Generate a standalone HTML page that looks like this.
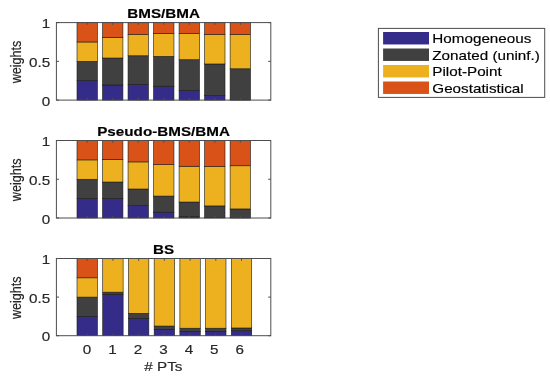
<!DOCTYPE html>
<html><head><meta charset="utf-8"><style>
html,body{margin:0;padding:0;background:#fff;}
svg{display:block;}
text{font-family:'Liberation Sans', Arial, Helvetica, sans-serif;fill:#262626;stroke:#262626;stroke-width:0.15px;}
</style></head><body>
<svg width="550" height="378" viewBox="0 0 550 378">
<rect width="550" height="378" fill="#fff"/>
<rect x="77.00" y="80.72" width="20.40" height="19.38" fill="#352c8a" stroke="#1a1a1a" stroke-width="0.6"/>
<rect x="77.00" y="61.35" width="20.40" height="19.38" fill="#404040" stroke="#1a1a1a" stroke-width="0.6"/>
<rect x="77.00" y="41.97" width="20.40" height="19.38" fill="#edb120" stroke="#1a1a1a" stroke-width="0.6"/>
<rect x="77.00" y="22.60" width="20.40" height="19.38" fill="#d95319" stroke="#1a1a1a" stroke-width="0.6"/>
<rect x="102.52" y="85.06" width="20.40" height="15.03" fill="#352c8a" stroke="#1a1a1a" stroke-width="0.6"/>
<rect x="102.52" y="58.02" width="20.40" height="27.05" fill="#404040" stroke="#1a1a1a" stroke-width="0.6"/>
<rect x="102.52" y="37.40" width="20.40" height="20.62" fill="#edb120" stroke="#1a1a1a" stroke-width="0.6"/>
<rect x="102.52" y="22.60" width="20.40" height="14.80" fill="#d95319" stroke="#1a1a1a" stroke-width="0.6"/>
<rect x="128.04" y="84.37" width="20.40" height="15.73" fill="#352c8a" stroke="#1a1a1a" stroke-width="0.6"/>
<rect x="128.04" y="55.77" width="20.40" height="28.60" fill="#404040" stroke="#1a1a1a" stroke-width="0.6"/>
<rect x="128.04" y="34.53" width="20.40" height="21.23" fill="#edb120" stroke="#1a1a1a" stroke-width="0.6"/>
<rect x="128.04" y="22.60" width="20.40" height="11.94" fill="#d95319" stroke="#1a1a1a" stroke-width="0.6"/>
<rect x="153.56" y="86.23" width="20.40" height="13.87" fill="#352c8a" stroke="#1a1a1a" stroke-width="0.6"/>
<rect x="153.56" y="56.39" width="20.40" height="29.84" fill="#404040" stroke="#1a1a1a" stroke-width="0.6"/>
<rect x="153.56" y="33.37" width="20.40" height="23.02" fill="#edb120" stroke="#1a1a1a" stroke-width="0.6"/>
<rect x="153.56" y="22.60" width="20.40" height="10.77" fill="#d95319" stroke="#1a1a1a" stroke-width="0.6"/>
<rect x="179.08" y="90.49" width="20.40" height="9.61" fill="#352c8a" stroke="#1a1a1a" stroke-width="0.6"/>
<rect x="179.08" y="59.72" width="20.40" height="30.77" fill="#404040" stroke="#1a1a1a" stroke-width="0.6"/>
<rect x="179.08" y="33.68" width="20.40" height="26.04" fill="#edb120" stroke="#1a1a1a" stroke-width="0.6"/>
<rect x="179.08" y="22.60" width="20.40" height="11.08" fill="#d95319" stroke="#1a1a1a" stroke-width="0.6"/>
<rect x="204.60" y="95.53" width="20.40" height="4.57" fill="#352c8a" stroke="#1a1a1a" stroke-width="0.6"/>
<rect x="204.60" y="63.98" width="20.40" height="31.54" fill="#404040" stroke="#1a1a1a" stroke-width="0.6"/>
<rect x="204.60" y="34.53" width="20.40" height="29.45" fill="#edb120" stroke="#1a1a1a" stroke-width="0.6"/>
<rect x="204.60" y="22.60" width="20.40" height="11.94" fill="#d95319" stroke="#1a1a1a" stroke-width="0.6"/>
<rect x="230.12" y="99.87" width="20.40" height="0.23" fill="#352c8a" stroke="#1a1a1a" stroke-width="0.6"/>
<rect x="230.12" y="68.79" width="20.40" height="31.08" fill="#404040" stroke="#1a1a1a" stroke-width="0.6"/>
<rect x="230.12" y="34.53" width="20.40" height="34.25" fill="#edb120" stroke="#1a1a1a" stroke-width="0.6"/>
<rect x="230.12" y="22.60" width="20.40" height="11.94" fill="#d95319" stroke="#1a1a1a" stroke-width="0.6"/>
<rect x="56.4" y="22.6" width="214.40" height="77.5" fill="none" stroke="#4d4d4d" stroke-width="1"/>
<line x1="56.4" y1="100.10" x2="59.0" y2="100.10" stroke="#4d4d4d" stroke-width="1"/>
<line x1="270.8" y1="100.10" x2="268.2" y2="100.10" stroke="#4d4d4d" stroke-width="1"/>
<line x1="56.4" y1="61.35" x2="59.0" y2="61.35" stroke="#4d4d4d" stroke-width="1"/>
<line x1="270.8" y1="61.35" x2="268.2" y2="61.35" stroke="#4d4d4d" stroke-width="1"/>
<line x1="56.4" y1="22.60" x2="59.0" y2="22.60" stroke="#4d4d4d" stroke-width="1"/>
<line x1="270.8" y1="22.60" x2="268.2" y2="22.60" stroke="#4d4d4d" stroke-width="1"/>
<line x1="87.20" y1="22.6" x2="87.20" y2="24.8" stroke="#4d4d4d" stroke-width="1"/>
<line x1="87.20" y1="100.1" x2="87.20" y2="97.89999999999999" stroke="#4d4d4d" stroke-width="1"/>
<line x1="112.72" y1="22.6" x2="112.72" y2="24.8" stroke="#4d4d4d" stroke-width="1"/>
<line x1="112.72" y1="100.1" x2="112.72" y2="97.89999999999999" stroke="#4d4d4d" stroke-width="1"/>
<line x1="138.24" y1="22.6" x2="138.24" y2="24.8" stroke="#4d4d4d" stroke-width="1"/>
<line x1="138.24" y1="100.1" x2="138.24" y2="97.89999999999999" stroke="#4d4d4d" stroke-width="1"/>
<line x1="163.76" y1="22.6" x2="163.76" y2="24.8" stroke="#4d4d4d" stroke-width="1"/>
<line x1="163.76" y1="100.1" x2="163.76" y2="97.89999999999999" stroke="#4d4d4d" stroke-width="1"/>
<line x1="189.28" y1="22.6" x2="189.28" y2="24.8" stroke="#4d4d4d" stroke-width="1"/>
<line x1="189.28" y1="100.1" x2="189.28" y2="97.89999999999999" stroke="#4d4d4d" stroke-width="1"/>
<line x1="214.80" y1="22.6" x2="214.80" y2="24.8" stroke="#4d4d4d" stroke-width="1"/>
<line x1="214.80" y1="100.1" x2="214.80" y2="97.89999999999999" stroke="#4d4d4d" stroke-width="1"/>
<line x1="240.32" y1="22.6" x2="240.32" y2="24.8" stroke="#4d4d4d" stroke-width="1"/>
<line x1="240.32" y1="100.1" x2="240.32" y2="97.89999999999999" stroke="#4d4d4d" stroke-width="1"/>
<text transform="translate(50.20,105.70) scale(1.27,1)" text-anchor="end" font-size="12">0</text>
<text transform="translate(50.20,66.95) scale(1.27,1)" text-anchor="end" font-size="12">0.5</text>
<text transform="translate(50.20,28.20) scale(1.27,1)" text-anchor="end" font-size="12">1</text>
<text transform="translate(20.60,61.95) scale(1.21,1) rotate(-90)" text-anchor="middle" font-size="12.6">weights</text>
<text transform="translate(163.60,17.60) scale(1.27,1)" text-anchor="middle" font-size="12" font-weight="bold" style="fill:#000;stroke:#000">BMS/BMA</text>
<rect x="77.00" y="198.62" width="20.40" height="19.38" fill="#352c8a" stroke="#1a1a1a" stroke-width="0.6"/>
<rect x="77.00" y="179.25" width="20.40" height="19.38" fill="#404040" stroke="#1a1a1a" stroke-width="0.6"/>
<rect x="77.00" y="159.88" width="20.40" height="19.38" fill="#edb120" stroke="#1a1a1a" stroke-width="0.6"/>
<rect x="77.00" y="140.50" width="20.40" height="19.38" fill="#d95319" stroke="#1a1a1a" stroke-width="0.6"/>
<rect x="102.52" y="198.70" width="20.40" height="19.30" fill="#352c8a" stroke="#1a1a1a" stroke-width="0.6"/>
<rect x="102.52" y="182.04" width="20.40" height="16.66" fill="#404040" stroke="#1a1a1a" stroke-width="0.6"/>
<rect x="102.52" y="159.33" width="20.40" height="22.71" fill="#edb120" stroke="#1a1a1a" stroke-width="0.6"/>
<rect x="102.52" y="140.50" width="20.40" height="18.83" fill="#d95319" stroke="#1a1a1a" stroke-width="0.6"/>
<rect x="128.04" y="205.68" width="20.40" height="12.32" fill="#352c8a" stroke="#1a1a1a" stroke-width="0.6"/>
<rect x="128.04" y="189.01" width="20.40" height="16.66" fill="#404040" stroke="#1a1a1a" stroke-width="0.6"/>
<rect x="128.04" y="161.89" width="20.40" height="27.12" fill="#edb120" stroke="#1a1a1a" stroke-width="0.6"/>
<rect x="128.04" y="140.50" width="20.40" height="21.39" fill="#d95319" stroke="#1a1a1a" stroke-width="0.6"/>
<rect x="153.56" y="212.19" width="20.40" height="5.81" fill="#352c8a" stroke="#1a1a1a" stroke-width="0.6"/>
<rect x="153.56" y="196.07" width="20.40" height="16.12" fill="#404040" stroke="#1a1a1a" stroke-width="0.6"/>
<rect x="153.56" y="164.68" width="20.40" height="31.39" fill="#edb120" stroke="#1a1a1a" stroke-width="0.6"/>
<rect x="153.56" y="140.50" width="20.40" height="24.18" fill="#d95319" stroke="#1a1a1a" stroke-width="0.6"/>
<rect x="179.08" y="216.53" width="20.40" height="1.47" fill="#352c8a" stroke="#1a1a1a" stroke-width="0.6"/>
<rect x="179.08" y="202.03" width="20.40" height="14.49" fill="#404040" stroke="#1a1a1a" stroke-width="0.6"/>
<rect x="179.08" y="166.23" width="20.40" height="35.81" fill="#edb120" stroke="#1a1a1a" stroke-width="0.6"/>
<rect x="179.08" y="140.50" width="20.40" height="25.73" fill="#d95319" stroke="#1a1a1a" stroke-width="0.6"/>
<rect x="204.60" y="217.69" width="20.40" height="0.31" fill="#352c8a" stroke="#1a1a1a" stroke-width="0.6"/>
<rect x="204.60" y="205.91" width="20.40" height="11.78" fill="#404040" stroke="#1a1a1a" stroke-width="0.6"/>
<rect x="204.60" y="166.62" width="20.40" height="39.29" fill="#edb120" stroke="#1a1a1a" stroke-width="0.6"/>
<rect x="204.60" y="140.50" width="20.40" height="26.12" fill="#d95319" stroke="#1a1a1a" stroke-width="0.6"/>
<rect x="230.12" y="217.84" width="20.40" height="0.16" fill="#352c8a" stroke="#1a1a1a" stroke-width="0.6"/>
<rect x="230.12" y="208.93" width="20.40" height="8.91" fill="#404040" stroke="#1a1a1a" stroke-width="0.6"/>
<rect x="230.12" y="165.76" width="20.40" height="43.17" fill="#edb120" stroke="#1a1a1a" stroke-width="0.6"/>
<rect x="230.12" y="140.50" width="20.40" height="25.26" fill="#d95319" stroke="#1a1a1a" stroke-width="0.6"/>
<rect x="56.4" y="140.5" width="214.40" height="77.5" fill="none" stroke="#4d4d4d" stroke-width="1"/>
<line x1="56.4" y1="218.00" x2="59.0" y2="218.00" stroke="#4d4d4d" stroke-width="1"/>
<line x1="270.8" y1="218.00" x2="268.2" y2="218.00" stroke="#4d4d4d" stroke-width="1"/>
<line x1="56.4" y1="179.25" x2="59.0" y2="179.25" stroke="#4d4d4d" stroke-width="1"/>
<line x1="270.8" y1="179.25" x2="268.2" y2="179.25" stroke="#4d4d4d" stroke-width="1"/>
<line x1="56.4" y1="140.50" x2="59.0" y2="140.50" stroke="#4d4d4d" stroke-width="1"/>
<line x1="270.8" y1="140.50" x2="268.2" y2="140.50" stroke="#4d4d4d" stroke-width="1"/>
<line x1="87.20" y1="140.5" x2="87.20" y2="142.7" stroke="#4d4d4d" stroke-width="1"/>
<line x1="87.20" y1="218.0" x2="87.20" y2="215.8" stroke="#4d4d4d" stroke-width="1"/>
<line x1="112.72" y1="140.5" x2="112.72" y2="142.7" stroke="#4d4d4d" stroke-width="1"/>
<line x1="112.72" y1="218.0" x2="112.72" y2="215.8" stroke="#4d4d4d" stroke-width="1"/>
<line x1="138.24" y1="140.5" x2="138.24" y2="142.7" stroke="#4d4d4d" stroke-width="1"/>
<line x1="138.24" y1="218.0" x2="138.24" y2="215.8" stroke="#4d4d4d" stroke-width="1"/>
<line x1="163.76" y1="140.5" x2="163.76" y2="142.7" stroke="#4d4d4d" stroke-width="1"/>
<line x1="163.76" y1="218.0" x2="163.76" y2="215.8" stroke="#4d4d4d" stroke-width="1"/>
<line x1="189.28" y1="140.5" x2="189.28" y2="142.7" stroke="#4d4d4d" stroke-width="1"/>
<line x1="189.28" y1="218.0" x2="189.28" y2="215.8" stroke="#4d4d4d" stroke-width="1"/>
<line x1="214.80" y1="140.5" x2="214.80" y2="142.7" stroke="#4d4d4d" stroke-width="1"/>
<line x1="214.80" y1="218.0" x2="214.80" y2="215.8" stroke="#4d4d4d" stroke-width="1"/>
<line x1="240.32" y1="140.5" x2="240.32" y2="142.7" stroke="#4d4d4d" stroke-width="1"/>
<line x1="240.32" y1="218.0" x2="240.32" y2="215.8" stroke="#4d4d4d" stroke-width="1"/>
<text transform="translate(50.20,223.60) scale(1.27,1)" text-anchor="end" font-size="12">0</text>
<text transform="translate(50.20,184.85) scale(1.27,1)" text-anchor="end" font-size="12">0.5</text>
<text transform="translate(50.20,146.10) scale(1.27,1)" text-anchor="end" font-size="12">1</text>
<text transform="translate(20.60,179.85) scale(1.21,1) rotate(-90)" text-anchor="middle" font-size="12.6">weights</text>
<text transform="translate(163.60,135.50) scale(1.27,1)" text-anchor="middle" font-size="12" font-weight="bold" style="fill:#000;stroke:#000">Pseudo-BMS/BMA</text>
<rect x="77.00" y="316.40" width="20.40" height="19.30" fill="#352c8a" stroke="#1a1a1a" stroke-width="0.6"/>
<rect x="77.00" y="297.10" width="20.40" height="19.30" fill="#404040" stroke="#1a1a1a" stroke-width="0.6"/>
<rect x="77.00" y="277.80" width="20.40" height="19.30" fill="#edb120" stroke="#1a1a1a" stroke-width="0.6"/>
<rect x="77.00" y="258.50" width="20.40" height="19.30" fill="#d95319" stroke="#1a1a1a" stroke-width="0.6"/>
<rect x="102.72" y="294.32" width="20.40" height="41.38" fill="#352c8a" stroke="#1a1a1a" stroke-width="0.6"/>
<rect x="102.72" y="292.16" width="20.40" height="2.16" fill="#404040" stroke="#1a1a1a" stroke-width="0.6"/>
<rect x="102.72" y="258.73" width="20.40" height="33.43" fill="#edb120" stroke="#1a1a1a" stroke-width="0.6"/>
<rect x="102.72" y="258.50" width="20.40" height="0.23" fill="#d95319" stroke="#1a1a1a" stroke-width="0.6"/>
<rect x="128.44" y="318.48" width="20.40" height="17.22" fill="#352c8a" stroke="#1a1a1a" stroke-width="0.6"/>
<rect x="128.44" y="313.31" width="20.40" height="5.17" fill="#404040" stroke="#1a1a1a" stroke-width="0.6"/>
<rect x="128.44" y="258.65" width="20.40" height="54.66" fill="#edb120" stroke="#1a1a1a" stroke-width="0.6"/>
<rect x="128.44" y="258.50" width="20.40" height="0.15" fill="#d95319" stroke="#1a1a1a" stroke-width="0.6"/>
<rect x="154.16" y="329.29" width="20.40" height="6.41" fill="#352c8a" stroke="#1a1a1a" stroke-width="0.6"/>
<rect x="154.16" y="326.05" width="20.40" height="3.24" fill="#404040" stroke="#1a1a1a" stroke-width="0.6"/>
<rect x="154.16" y="258.65" width="20.40" height="67.40" fill="#edb120" stroke="#1a1a1a" stroke-width="0.6"/>
<rect x="154.16" y="258.50" width="20.40" height="0.15" fill="#d95319" stroke="#1a1a1a" stroke-width="0.6"/>
<rect x="179.88" y="331.30" width="20.40" height="4.40" fill="#352c8a" stroke="#1a1a1a" stroke-width="0.6"/>
<rect x="179.88" y="328.21" width="20.40" height="3.09" fill="#404040" stroke="#1a1a1a" stroke-width="0.6"/>
<rect x="179.88" y="258.65" width="20.40" height="69.56" fill="#edb120" stroke="#1a1a1a" stroke-width="0.6"/>
<rect x="179.88" y="258.50" width="20.40" height="0.15" fill="#d95319" stroke="#1a1a1a" stroke-width="0.6"/>
<rect x="205.60" y="331.30" width="20.40" height="4.40" fill="#352c8a" stroke="#1a1a1a" stroke-width="0.6"/>
<rect x="205.60" y="328.21" width="20.40" height="3.09" fill="#404040" stroke="#1a1a1a" stroke-width="0.6"/>
<rect x="205.60" y="258.65" width="20.40" height="69.56" fill="#edb120" stroke="#1a1a1a" stroke-width="0.6"/>
<rect x="205.60" y="258.50" width="20.40" height="0.15" fill="#d95319" stroke="#1a1a1a" stroke-width="0.6"/>
<rect x="231.32" y="330.76" width="20.40" height="4.94" fill="#352c8a" stroke="#1a1a1a" stroke-width="0.6"/>
<rect x="231.32" y="327.98" width="20.40" height="2.78" fill="#404040" stroke="#1a1a1a" stroke-width="0.6"/>
<rect x="231.32" y="258.65" width="20.40" height="69.33" fill="#edb120" stroke="#1a1a1a" stroke-width="0.6"/>
<rect x="231.32" y="258.50" width="20.40" height="0.15" fill="#d95319" stroke="#1a1a1a" stroke-width="0.6"/>
<rect x="56.4" y="258.5" width="214.40" height="77.19999999999999" fill="none" stroke="#4d4d4d" stroke-width="1"/>
<line x1="56.4" y1="335.70" x2="59.0" y2="335.70" stroke="#4d4d4d" stroke-width="1"/>
<line x1="270.8" y1="335.70" x2="268.2" y2="335.70" stroke="#4d4d4d" stroke-width="1"/>
<line x1="56.4" y1="297.10" x2="59.0" y2="297.10" stroke="#4d4d4d" stroke-width="1"/>
<line x1="270.8" y1="297.10" x2="268.2" y2="297.10" stroke="#4d4d4d" stroke-width="1"/>
<line x1="56.4" y1="258.50" x2="59.0" y2="258.50" stroke="#4d4d4d" stroke-width="1"/>
<line x1="270.8" y1="258.50" x2="268.2" y2="258.50" stroke="#4d4d4d" stroke-width="1"/>
<line x1="87.20" y1="258.5" x2="87.20" y2="260.7" stroke="#4d4d4d" stroke-width="1"/>
<line x1="87.20" y1="335.7" x2="87.20" y2="333.5" stroke="#4d4d4d" stroke-width="1"/>
<line x1="112.92" y1="258.5" x2="112.92" y2="260.7" stroke="#4d4d4d" stroke-width="1"/>
<line x1="112.92" y1="335.7" x2="112.92" y2="333.5" stroke="#4d4d4d" stroke-width="1"/>
<line x1="138.64" y1="258.5" x2="138.64" y2="260.7" stroke="#4d4d4d" stroke-width="1"/>
<line x1="138.64" y1="335.7" x2="138.64" y2="333.5" stroke="#4d4d4d" stroke-width="1"/>
<line x1="164.36" y1="258.5" x2="164.36" y2="260.7" stroke="#4d4d4d" stroke-width="1"/>
<line x1="164.36" y1="335.7" x2="164.36" y2="333.5" stroke="#4d4d4d" stroke-width="1"/>
<line x1="190.08" y1="258.5" x2="190.08" y2="260.7" stroke="#4d4d4d" stroke-width="1"/>
<line x1="190.08" y1="335.7" x2="190.08" y2="333.5" stroke="#4d4d4d" stroke-width="1"/>
<line x1="215.80" y1="258.5" x2="215.80" y2="260.7" stroke="#4d4d4d" stroke-width="1"/>
<line x1="215.80" y1="335.7" x2="215.80" y2="333.5" stroke="#4d4d4d" stroke-width="1"/>
<line x1="241.52" y1="258.5" x2="241.52" y2="260.7" stroke="#4d4d4d" stroke-width="1"/>
<line x1="241.52" y1="335.7" x2="241.52" y2="333.5" stroke="#4d4d4d" stroke-width="1"/>
<text transform="translate(50.20,341.30) scale(1.27,1)" text-anchor="end" font-size="12">0</text>
<text transform="translate(50.20,302.70) scale(1.27,1)" text-anchor="end" font-size="12">0.5</text>
<text transform="translate(50.20,264.10) scale(1.27,1)" text-anchor="end" font-size="12">1</text>
<text transform="translate(20.60,297.70) scale(1.21,1) rotate(-90)" text-anchor="middle" font-size="12.6">weights</text>
<text transform="translate(163.60,253.50) scale(1.27,1)" text-anchor="middle" font-size="12" font-weight="bold" style="fill:#000;stroke:#000">BS</text>
<text transform="translate(87.00,353.60) scale(1.27,1)" text-anchor="middle" font-size="12">0</text>
<text transform="translate(112.47,353.60) scale(1.27,1)" text-anchor="middle" font-size="12">1</text>
<text transform="translate(137.94,353.60) scale(1.27,1)" text-anchor="middle" font-size="12">2</text>
<text transform="translate(163.41,353.60) scale(1.27,1)" text-anchor="middle" font-size="12">3</text>
<text transform="translate(188.88,353.60) scale(1.27,1)" text-anchor="middle" font-size="12">4</text>
<text transform="translate(214.35,353.60) scale(1.27,1)" text-anchor="middle" font-size="12">5</text>
<text transform="translate(239.82,353.60) scale(1.27,1)" text-anchor="middle" font-size="12">6</text>
<text transform="translate(163.40,370.50) scale(1.27,1)" text-anchor="middle" font-size="12"># PTs</text>
<rect x="378.4" y="28.4" width="166.3" height="69.0" fill="#fff" stroke="#4d4d4d" stroke-width="1"/>
<rect x="383.1" y="32.00" width="45.9" height="12.45" fill="#352c8a"/>
<text transform="translate(432.30,43.00) scale(1.27,1)" text-anchor="start" font-size="12" style="fill:#000;stroke:#000">Homogeneous</text>
<rect x="383.1" y="48.50" width="45.9" height="12.45" fill="#404040"/>
<text transform="translate(432.30,59.50) scale(1.27,1)" text-anchor="start" font-size="12" style="fill:#000;stroke:#000">Zonated (uninf.)</text>
<rect x="383.1" y="65.00" width="45.9" height="12.45" fill="#edb120"/>
<text transform="translate(432.30,76.00) scale(1.27,1)" text-anchor="start" font-size="12" style="fill:#000;stroke:#000">Pilot-Point</text>
<rect x="383.1" y="81.50" width="45.9" height="12.45" fill="#d95319"/>
<text transform="translate(432.30,92.50) scale(1.27,1)" text-anchor="start" font-size="12" style="fill:#000;stroke:#000">Geostatistical</text>
</svg>
</body></html>
